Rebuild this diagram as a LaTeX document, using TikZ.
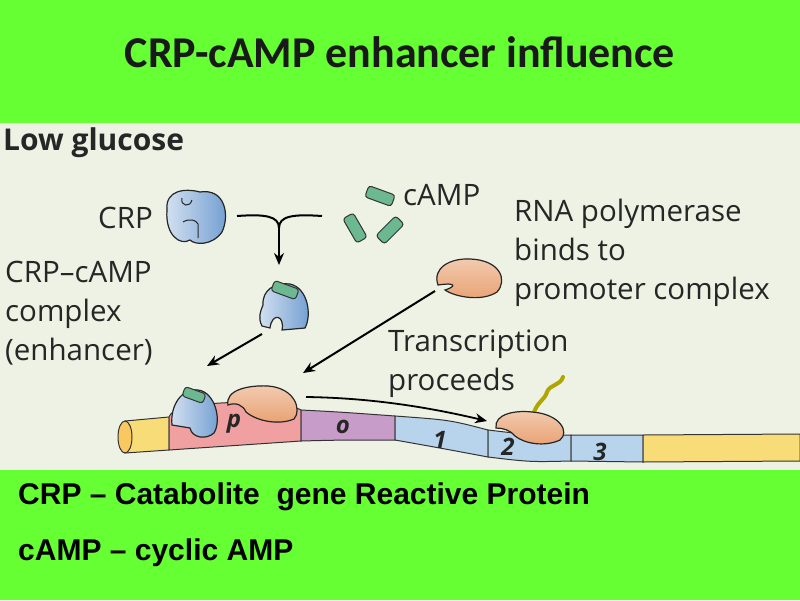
\documentclass[tikz,border=0pt]{standalone}
\usepackage{fontspec}
\setmainfont{Open Sans}
\newfontfamily\arialf{Liberation Sans}
\newfontfamily\calf{Carlito}
\usetikzlibrary{arrows.meta}
\definecolor{bggreen}{HTML}{66FF33}
\definecolor{panel}{HTML}{EEF2E4}
\definecolor{dnayel}{HTML}{F8DC78}
\definecolor{dnapink}{HTML}{F0A0A0}
\definecolor{dnapur}{HTML}{C89CC8}
\definecolor{dnablue}{HTML}{B8D4EC}
\definecolor{crpblue}{HTML}{6F9CD0}
\definecolor{polor}{HTML}{E8A070}
\definecolor{campg}{HTML}{6CB890}
\tikzset{
 lbl/.style={font=\fontsize{29.5}{39}\selectfont, anchor=west, inner sep=0pt, text=black!85},
 seg/.style={draw=black!80, line width=1pt},
 prot/.style={draw=black!85, line width=1.2pt},
 arr/.style={draw=black, line width=2pt, -{Stealth[length=12pt,width=10pt]}},
 camp/.style={draw=black!80, fill=campg, line width=1pt, rounded corners=3pt, minimum width=28pt, minimum height=12pt, inner sep=0pt},
 num/.style={font=\fontsize{24}{26}\selectfont\itshape\bfseries, text=black!85},
}
\begin{document}
\begin{tikzpicture}[x=1pt,y=-1pt]
\fill[bggreen] (0,0) rectangle (800,600);
\fill[panel] (0,123) rectangle (800,470);
\useasboundingbox (0,0) rectangle (800,600);
\node[text=black!90] (title) at (400,52) {\calf\fontsize{44}{48}\selectfont\bfseries CRP-cAMP enhancer influence};
\node[lbl, font=\fontsize{30}{30}\selectfont\bfseries] (low) at (3,143) {Low glucose};
\node[lbl] (crpl) at (98,218) {CRP};
\node[lbl] (campl) at (403,195) {cAMP};
\node[lbl, align=left, anchor=north west] (rnal) at (514,199) {RNA polymerase\\binds to\\promoter complex};
\node[lbl, align=left, anchor=north west] (cxl) at (5,261) {CRP–cAMP\\complex\\(enhancer)};
\node[lbl, align=left, anchor=north west] (trl) at (388,330) {Transcription\\proceeds};
% DNA
\filldraw[seg, fill=dnayel] (125,421) -- (169,417) -- (169,450) -- (125,453) -- cycle;
\filldraw[seg, fill=dnapink] (169,417) .. controls (172,400) and (280,398) .. (301,410) -- (301,441) -- (169,450) -- cycle;
\filldraw[seg, fill=dnapur] (301,410) .. controls (340,412) .. (395,416) -- (395,440) .. controls (340,440) .. (301,441) -- cycle;
\filldraw[seg, fill=dnablue] (395,416) .. controls (450,420) .. (488,430) -- (488,457) .. controls (440,448) .. (395,440) -- cycle;
\filldraw[seg, fill=dnablue] (488,430) .. controls (530,435) .. (571,435) -- (571,461) .. controls (530,462) .. (488,457) -- cycle;
\filldraw[seg, fill=dnablue] (571,435) -- (643,435) -- (643,462) -- (571,461) -- cycle;
\filldraw[seg, fill=dnayel] (643,435) -- (800,434) -- (800,461) -- (643,462) -- cycle;
\filldraw[seg, fill=dnayel!80!orange] (125,437) ellipse (7 and 16);
\node[num] (pl) at (234,424) {p};
\node[num] (ol) at (343,427) {o};
\node[num] (g1) at (440,440) {1};
\node[num] (g2) at (508,447) {2};
\node[num] (g3) at (600,452) {3};
% free CRP
\filldraw[prot, left color=crpblue!30, right color=crpblue] (167,210) .. controls (165,190) and (185,188) .. (200,192) .. controls (225,188) and (230,215) .. (222,232) .. controls (212,246) and (195,245) .. (190,240) .. controls (180,246) and (165,235) .. (167,210) -- cycle;
\draw[prot, line width=1pt] (182,198) .. controls (180,206) and (190,208) .. (192,200);
\draw[prot, line width=1pt] (183,222) .. controls (190,218) and (196,220) .. (198,224) -- (198,238);
% cAMP molecules
\node[camp, rotate=-20] (c1) at (380,196) {};
\node[camp, rotate=-60] (c2) at (355,228) {};
\node[camp, rotate=45] (c3) at (390,230) {};
% complex
\filldraw[prot, left color=crpblue!30, right color=crpblue] (263,305) .. controls (262,290) and (275,282) .. (290,284) .. controls (308,288) and (312,315) .. (305,328) -- (282,330) .. controls (285,315) and (272,312) .. (270,328) -- (262,326) .. controls (258,318) and (260,312) .. (263,305) -- cycle;
\node[camp, rotate=-20, minimum width=26pt, minimum height=11pt] (c4) at (285,290) {};
% complex on DNA
\filldraw[prot, left color=crpblue!30, right color=crpblue] (172,425) .. controls (170,405) and (182,388) .. (198,390) .. controls (215,392) and (222,420) .. (214,433) .. controls (206,440) and (192,438) .. (190,428) -- (172,425) -- cycle;
\node[camp, rotate=-20, minimum width=22pt, minimum height=10pt] (c5) at (194,395) {};
% RNA polymerase free
\filldraw[prot, top color=polor!55, bottom color=polor] (438,285) .. controls (432,268) and (450,258) .. (470,259) .. controls (500,260) and (508,280) .. (497,292) .. controls (482,302) and (455,297) .. (445,290) .. controls (455,287) and (458,282) .. (438,285) -- cycle;
% polymerase on promoter
\filldraw[prot, top color=polor!55, bottom color=polor] (228,405) .. controls (225,390) and (248,385) .. (268,386) .. controls (295,388) and (302,410) .. (294,419) .. controls (280,425) and (258,422) .. (246,412) .. controls (243,405) and (236,402) .. (228,405) -- cycle;
% polymerase transcribing
\draw[draw=olive!70!yellow, line width=4pt, line cap=round] (533,416) .. controls (536,402) and (545,400) .. (547,392) .. controls (550,384) and (560,386) .. (563,377);
\filldraw[prot, top color=polor!55, bottom color=polor] (496,428) .. controls (494,414) and (515,410) .. (532,412) .. controls (560,414) and (570,432) .. (560,440) .. controls (545,447) and (525,444) .. (515,436) .. controls (510,430) and (503,428) .. (496,428) -- cycle;
\coordinate (t2) at (487,421);
% arrows
\coordinate (bl) at (237,216);
\coordinate (br) at (322,216);
\coordinate (bm) at (279,228);
\coordinate (bd) at (279,265);
\draw[line width=2pt] (bl) .. controls (265,214) and (279,216) .. (bm);
\draw[line width=2pt] (br) .. controls (293,214) and (279,216) .. (bm);
\draw[arr] (bm) -- (bd);
\coordinate (a1s) at (262,334);
\coordinate (a1e) at (207,366);
\draw[arr] (a1s) -- (a1e);
\coordinate (a2s) at (435,291);
\coordinate (a2e) at (303,373);
\draw[arr] (a2s) -- (a2e);
\coordinate (t1) at (306,397);
\draw[arr, line width=1.8pt] (t1) .. controls (380,398) and (440,410) .. (t2);
% bottom text
\node[anchor=west, inner sep=0pt, font=\arialf\fontsize{30}{32}\selectfont\bfseries] (d1) at (18,497) {CRP – Catabolite\ \ gene Reactive Protein};
\node[anchor=west, inner sep=0pt, font=\arialf\fontsize{30}{32}\selectfont\bfseries] (d2) at (18,553) {cAMP – cyclic AMP};
\end{tikzpicture}
\end{document}
